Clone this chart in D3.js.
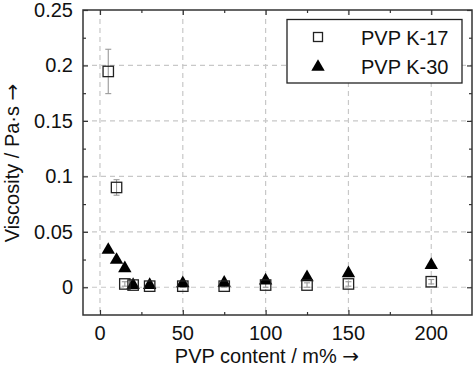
<!DOCTYPE html>
<html><head><meta charset="utf-8">
<script src="https://cdn.jsdelivr.net/npm/d3@7"></script>
<style>body{margin:0;background:#fff}svg{display:block}text{font-family:"Liberation Sans",Arial,sans-serif;fill:#111}.ar{font-family:"DejaVu Sans",sans-serif}</style>
</head><body><svg id="c" width="474" height="368"></svg>
<script>
const xValues = [5, 10, 15, 20, 30, 50, 75, 100, 125, 150, 200];
const k17 = [0.1946, 0.090, 0.003, 0.002, 0.001, 0.001, 0.001, 0.002, 0.002, 0.003, 0.005];
const k17Err = [0.020, 0.007, 0.002, 0.001, 0.001, 0.001, 0.001, 0.002, 0.002, 0.002, 0.002];
const k30 = [0.0337, 0.0246, 0.0171, 0.002, 0.002, 0.0036, 0.004, 0.006, 0.009, 0.0126, 0.020];
const xTicks = [0, 50, 100, 150, 200];
const yTicks = [0, 0.05, 0.1, 0.15, 0.2, 0.25];
const yTickLabels = ["0", "0.05", "0.1", "0.15", "0.2", "0.25"];
const seriesNames = ["PVP K-17", "PVP K-30"];

const svg = d3.select("#c");
const L = 83, R = 472, T = 10, B = 315;
const x = d3.scaleLinear().domain([-10.25, 224.6]).range([L, R]);
const y = d3.scaleLinear().domain([-0.025, 0.25]).range([B, T]);
const fs = 20;

// grid
const g = svg.append("g");
g.selectAll(".gx").data(xTicks).join("line")
  .attr("x1", d => x(d)).attr("x2", d => x(d)).attr("y1", T).attr("y2", B)
  .attr("stroke", "#c8c8c8").attr("stroke-width", 1.2).attr("stroke-dasharray", "5,4");
g.selectAll(".gy").data(yTicks.slice(0, 5)).join("line")
  .attr("x1", L).attr("x2", R).attr("y1", d => y(d)).attr("y2", d => y(d))
  .attr("stroke", "#c8c8c8").attr("stroke-width", 1.2).attr("stroke-dasharray", "5,4");

// axes with inward ticks, mirrored
const minorX = [25, 75, 125, 175];
const minorY = [0.025, 0.075, 0.125, 0.175, 0.225];
function ticks(axisFn, sel, vals, size) {
  sel.call(axisFn.tickValues(vals).tickSize(size).tickFormat(""));
  sel.select(".domain").remove();
  sel.selectAll("line").attr("stroke", "#333").attr("stroke-width", 1.2);
}
ticks(d3.axisBottom(x), svg.append("g").attr("transform", `translate(0,${B})`), xTicks, -5);
ticks(d3.axisBottom(x), svg.append("g").attr("transform", `translate(0,${B})`), minorX, -3);
ticks(d3.axisTop(x), svg.append("g").attr("transform", `translate(0,${T})`), xTicks, -5);
ticks(d3.axisTop(x), svg.append("g").attr("transform", `translate(0,${T})`), minorX, -3);
ticks(d3.axisLeft(y), svg.append("g").attr("transform", `translate(${L},0)`), yTicks, -5);
ticks(d3.axisLeft(y), svg.append("g").attr("transform", `translate(${L},0)`), minorY, -3);
ticks(d3.axisRight(y), svg.append("g").attr("transform", `translate(${R},0)`), yTicks, -5);
ticks(d3.axisRight(y), svg.append("g").attr("transform", `translate(${R},0)`), minorY, -3);

// tick labels
svg.append("g").selectAll("text").data(xTicks).join("text")
  .attr("x", d => x(d)).attr("y", 340).attr("text-anchor", "middle").attr("font-size", fs)
  .text(d => d);
svg.append("g").selectAll("text").data(yTicks).join("text")
  .attr("x", 73).attr("y", d => y(d) + 7).attr("text-anchor", "end").attr("font-size", fs)
  .text((d, i) => yTickLabels[i]);

// titles
const xt = svg.append("text").attr("x", 267).attr("y", 362.5).attr("text-anchor", "middle").attr("font-size", fs);
xt.append("tspan").text("PVP content / m% ");
xt.append("tspan").attr("class", "ar").text("\u2192");
const yt = svg.append("text").attr("transform", "translate(18.5,163) rotate(-90)").attr("text-anchor", "middle").attr("font-size", fs);
yt.append("tspan").text("Viscosity / Pa\u00b7s ");
yt.append("tspan").attr("class", "ar").text("\u2192");

// error bars
const eb = svg.append("g").attr("stroke", "#999").attr("stroke-width", 1.1);
xValues.forEach((xv, i) => {
  const cx = x(xv), y1 = y(k17[i] + k17Err[i]), y2 = y(k17[i] - k17Err[i]);
  eb.append("line").attr("x1", cx).attr("x2", cx).attr("y1", y1).attr("y2", y2);
  eb.append("line").attr("x1", cx - 3).attr("x2", cx + 3).attr("y1", y1).attr("y2", y1);
  eb.append("line").attr("x1", cx - 3).attr("x2", cx + 3).attr("y1", y2).attr("y2", y2);
});

// K-30 triangles
const tri = d3.symbol().type(d3.symbolTriangle).size(78);
svg.append("g").selectAll("path").data(xValues).join("path")
  .attr("d", tri).attr("transform", (d, i) => `translate(${x(d)},${y(k30[i])})`)
  .attr("fill", "#000");

// K-17 squares
svg.append("g").selectAll("rect").data(xValues).join("rect")
  .attr("x", d => x(d) - 5.2).attr("y", (d, i) => y(k17[i]) - 5.2).attr("width", 10.4).attr("height", 10.4)
  .attr("fill", "none").attr("stroke", "#222").attr("stroke-width", 1.3);

// frame
svg.append("rect").attr("x", L).attr("y", T).attr("width", R - L).attr("height", B - T)
  .attr("fill", "none").attr("stroke", "#333").attr("stroke-width", 1.5);

// legend
const lg = svg.append("g");
lg.append("rect").attr("x", 287).attr("y", 19.5).attr("width", 175).attr("height", 63.5)
  .attr("fill", "#fff").attr("stroke", "#222").attr("stroke-width", 1.3);
lg.append("rect").attr("x", 313.5).attr("y", 32.5).attr("width", 9).attr("height", 9)
  .attr("fill", "none").attr("stroke", "#222").attr("stroke-width", 1.3);
lg.append("path").attr("d", tri).attr("transform", "translate(318,67)").attr("fill", "#000");
lg.selectAll("text").data(seriesNames).join("text")
  .attr("x", 361).attr("y", (d, i) => 44.5 + i * 29.5).attr("font-size", fs).text(d => d);
</script></body></html>
